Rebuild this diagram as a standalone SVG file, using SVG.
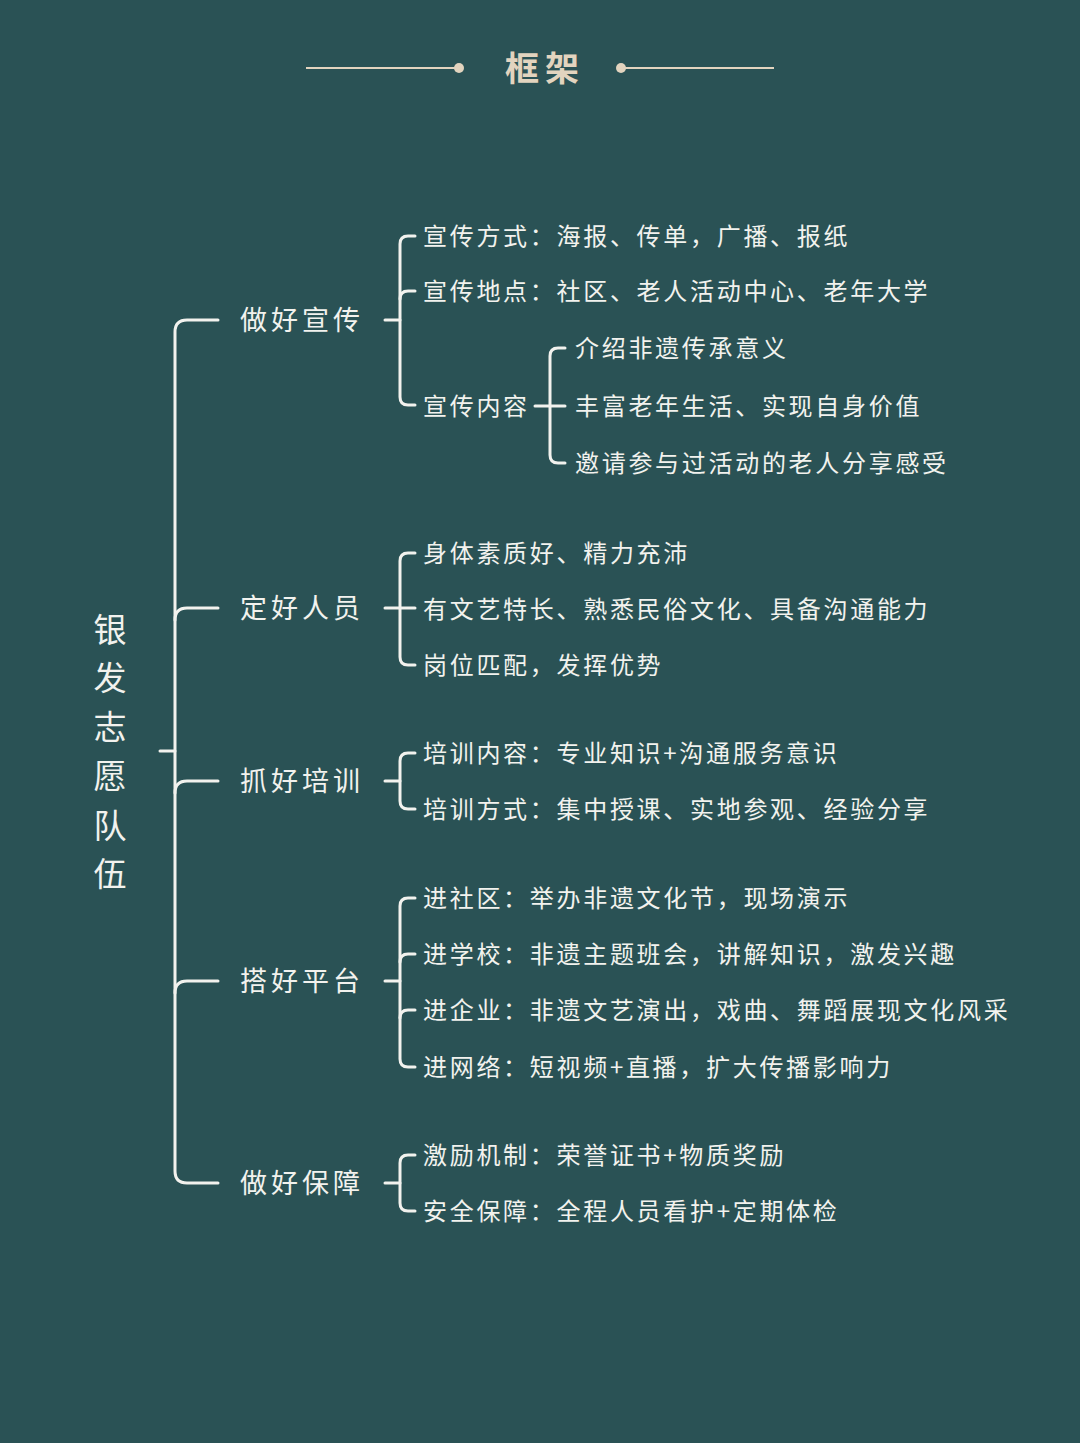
<svg xmlns="http://www.w3.org/2000/svg" width="1080" height="1443" viewBox="0 0 1080 1443">
<style>
.bg{fill:#2a5255}
.ln{fill:none;stroke:#f2f2ee;stroke-width:3;stroke-linecap:round;stroke-linejoin:round}
.tl{stroke:#e2d4bf;stroke-width:2}
.dot{fill:#e2d4bf}
.title{font-family:"Noto Sans CJK SC",sans-serif;font-size:34px;font-weight:bold;fill:#e2d4bf;letter-spacing:6px}
.root{font-family:"Noto Sans CJK SC",sans-serif;font-size:33px;fill:#f2f2ee}
.l1{font-family:"Noto Sans CJK SC",sans-serif;font-size:27px;fill:#f2f2ee;letter-spacing:4px}
.l2{font-family:"Noto Sans CJK SC",sans-serif;font-size:24px;fill:#f2f2ee;letter-spacing:2.7px}
</style>
<rect class="bg" x="0" y="0" width="1080" height="1443"/>
<g id="title">
<line class="tl" x1="306" y1="68" x2="455" y2="68"/>
<circle class="dot" cx="459" cy="68" r="5"/>
<text class="title" x="505" y="66" dominant-baseline="central">框架</text>
<circle class="dot" cx="621" cy="68" r="5"/>
<line class="tl" x1="625" y1="68" x2="774" y2="68"/>
</g>
<g id="connectors">
<path class="ln" d="M160,751 H175"/>
<path class="ln" d="M218,320 H187 Q175,320 175,332 V1171 Q175,1183 187,1183 H218"/>
<path class="ln" d="M175,620 Q175,608 187,608 H218"/>
<path class="ln" d="M175,793 Q175,781 187,781 H218"/>
<path class="ln" d="M175,993 Q175,981 187,981 H218"/>
<path class="ln" d="M385,320 H400"/>
<path class="ln" d="M415,236 H408 Q400,236 400,244 V397 Q400,405 408,405 H415"/>
<path class="ln" d="M400,299 Q400,291 408,291 H415"/>
<path class="ln" d="M535,406 H565"/>
<path class="ln" d="M565,348 H558 Q550,348 550,356 V455 Q550,463 558,463 H565"/>
<path class="ln" d="M385,608 H415"/>
<path class="ln" d="M415,553 H408 Q400,553 400,561 V657 Q400,665 408,665 H415"/>
<path class="ln" d="M385,781 H400"/>
<path class="ln" d="M415,753 H408 Q400,753 400,761 V801 Q400,809 408,809 H415"/>
<path class="ln" d="M385,981 H400"/>
<path class="ln" d="M415,898 H408 Q400,898 400,906 V1059 Q400,1067 408,1067 H415"/>
<path class="ln" d="M400,962 Q400,954 408,954 H415"/>
<path class="ln" d="M400,1018 Q400,1010 408,1010 H415"/>
<path class="ln" d="M385,1183 H400"/>
<path class="ln" d="M415,1155 H408 Q400,1155 400,1163 V1203 Q400,1211 408,1211 H415"/>
</g>
<g id="root" transform="translate(0,-2)">
<text class="root" x="110" y="630" text-anchor="middle" dominant-baseline="central">银</text>
<text class="root" x="110" y="678" text-anchor="middle" dominant-baseline="central">发</text>
<text class="root" x="110" y="727" text-anchor="middle" dominant-baseline="central">志</text>
<text class="root" x="110" y="776" text-anchor="middle" dominant-baseline="central">愿</text>
<text class="root" x="110" y="826" text-anchor="middle" dominant-baseline="central">队</text>
<text class="root" x="110" y="874" text-anchor="middle" dominant-baseline="central">伍</text>
</g>
<g id="n-xuanchuan" transform="translate(0,-2)">
<text class="l1" x="240" y="320" dominant-baseline="central">做好宣传</text>
<text class="l2" x="423" y="236" dominant-baseline="central">宣传方式：海报、传单，广播、报纸</text>
<text class="l2" x="423" y="291" dominant-baseline="central">宣传地点：社区、老人活动中心、老年大学</text>
<text class="l2" x="423" y="406" dominant-baseline="central">宣传内容</text>
<text class="l2" x="575" y="348" dominant-baseline="central">介绍非遗传承意义</text>
<text class="l2" x="575" y="406" dominant-baseline="central">丰富老年生活、实现自身价值</text>
<text class="l2" x="575" y="463" dominant-baseline="central">邀请参与过活动的老人分享感受</text>
</g>
<g id="n-renyuan" transform="translate(0,-2)">
<text class="l1" x="240" y="608" dominant-baseline="central">定好人员</text>
<text class="l2" x="423" y="553" dominant-baseline="central">身体素质好、精力充沛</text>
<text class="l2" x="423" y="609" dominant-baseline="central">有文艺特长、熟悉民俗文化、具备沟通能力</text>
<text class="l2" x="423" y="665" dominant-baseline="central">岗位匹配，发挥优势</text>
</g>
<g id="n-peixun" transform="translate(0,-2)">
<text class="l1" x="240" y="781" dominant-baseline="central">抓好培训</text>
<text class="l2" x="423" y="753" dominant-baseline="central">培训内容：专业知识+沟通服务意识</text>
<text class="l2" x="423" y="809" dominant-baseline="central">培训方式：集中授课、实地参观、经验分享</text>
</g>
<g id="n-pingtai" transform="translate(0,-2)">
<text class="l1" x="240" y="981" dominant-baseline="central">搭好平台</text>
<text class="l2" x="423" y="898" dominant-baseline="central">进社区：举办非遗文化节，现场演示</text>
<text class="l2" x="423" y="954" dominant-baseline="central">进学校：非遗主题班会，讲解知识，激发兴趣</text>
<text class="l2" x="423" y="1010" dominant-baseline="central">进企业：非遗文艺演出，戏曲、舞蹈展现文化风采</text>
<text class="l2" x="423" y="1067" dominant-baseline="central">进网络：短视频+直播，扩大传播影响力</text>
</g>
<g id="n-baozhang" transform="translate(0,-2)">
<text class="l1" x="240" y="1183" dominant-baseline="central">做好保障</text>
<text class="l2" x="423" y="1155" dominant-baseline="central">激励机制：荣誉证书+物质奖励</text>
<text class="l2" x="423" y="1211" dominant-baseline="central">安全保障：全程人员看护+定期体检</text>
</g>
</svg>
